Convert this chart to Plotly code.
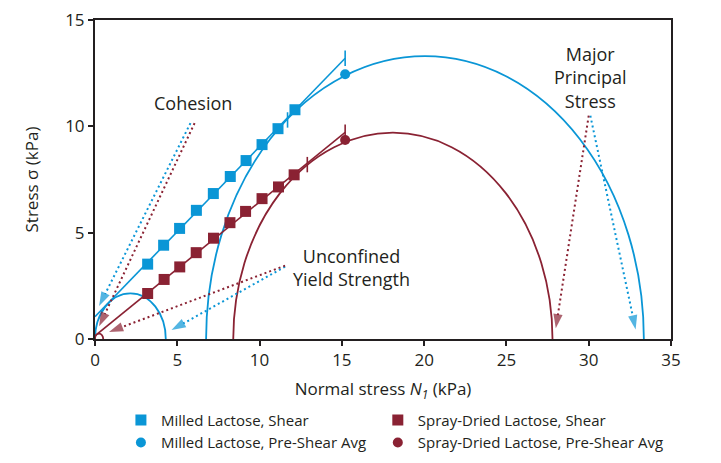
import plotly.graph_objects as go

# ---- data ----
milled_shear_x = [3.2, 4.17, 5.14, 6.16, 7.19, 8.22, 9.18, 10.15, 11.12, 12.15]
milled_shear_y = [3.52, 4.41, 5.2, 6.05, 6.84, 7.64, 8.39, 9.14, 9.89, 10.78]
spray_shear_x = [3.2, 4.2, 5.15, 6.15, 7.2, 8.2, 9.15, 10.15, 11.15, 12.1]
spray_shear_y = [2.14, 2.8, 3.39, 4.06, 4.74, 5.47, 6.0, 6.6, 7.15, 7.72]
milled_pre_x = [15.2]
milled_pre_y = [12.45]
spray_pre_x = [15.2]
spray_pre_y = [9.36]

# yield loci (fitted lines) and tick points (tangent point, end point)
milled_locus_x = [0.0, 15.2]
milled_locus_y = [1.05, 13.2]
milled_ticks_x = [11.7, 15.2]
milled_ticks_y = [10.3, 13.2]
spray_locus_x = [0.0, 15.2]
spray_locus_y = [0.15, 9.72]
spray_ticks_x = [12.9, 15.2]
spray_ticks_y = [8.2, 9.72]

# Mohr circles: (sigma3, sigma1) principal stresses
milled_circles = [(6.75, 33.35), (0.0, 4.3)]
spray_circles = [(8.4, 27.8), (0.0, 0.5)]

# annotation arrows: (x_start, y_start, x_end, y_end)
blue_arrows = [(5.8, 10.15, 0.25, 1.55), (11.55, 3.4, 4.65, 0.42), (30.1, 10.5, 32.85, 0.45)]
red_arrows = [(6.05, 10.15, 0.25, 0.6), (11.55, 3.45, 0.85, 0.33), (30.0, 10.5, 28.0, 0.5)]

labels = ["Cohesion", "Unconfined<br>Yield Strength", "Major<br>Principal<br>Stress"]
label_x = [5.97, 15.6, 30.1]
label_y = [11.1, 3.35, 12.3]

BLUE = "#0a96d6"
RED = "#8a2233"
INK = "#231f20"
FONT = "Open Sans"

fig = go.Figure()

# loci lines
fig.add_trace(go.Scatter(x=milled_locus_x, y=milled_locus_y, mode="lines",
                         line=dict(color=BLUE, width=1.6), showlegend=False, hoverinfo="skip"))
fig.add_trace(go.Scatter(x=spray_locus_x, y=spray_locus_y, mode="lines",
                         line=dict(color=RED, width=1.6), showlegend=False, hoverinfo="skip"))
fig.add_trace(go.Scatter(x=milled_ticks_x, y=milled_ticks_y, mode="markers",
                         marker=dict(symbol="line-ns", size=11, line=dict(color=BLUE, width=1.6)),
                         showlegend=False, hoverinfo="skip"))
fig.add_trace(go.Scatter(x=spray_ticks_x, y=spray_ticks_y, mode="markers",
                         marker=dict(symbol="line-ns", size=11, line=dict(color=RED, width=1.6)),
                         showlegend=False, hoverinfo="skip"))

# dotted arrows
for arrows, col in ((blue_arrows, BLUE), (red_arrows, RED)):
    for (x0, y0, x1, y1) in arrows:
        fig.add_trace(go.Scatter(
            x=[x0, x1], y=[y0, y1], mode="lines+markers",
            line=dict(color=col, width=2, dash="2px,3px"),
            marker=dict(symbol="arrow", size=[0, 15], color=col, angleref="previous",
                        line=dict(width=0)),
            showlegend=False, hoverinfo="skip"))

# data markers (legend: two columns)
fig.add_trace(go.Scatter(x=milled_shear_x, y=milled_shear_y, mode="markers",
                         name="Milled Lactose, Shear", legend="legend",
                         marker=dict(symbol="square", size=11, color=BLUE)))
fig.add_trace(go.Scatter(x=milled_pre_x, y=milled_pre_y, mode="markers",
                         name="Milled Lactose, Pre-Shear Avg", legend="legend",
                         marker=dict(symbol="circle", size=10, color=BLUE)))
fig.add_trace(go.Scatter(x=spray_shear_x, y=spray_shear_y, mode="markers",
                         name="Spray-Dried Lactose, Shear", legend="legend2",
                         marker=dict(symbol="square", size=11, color=RED)))
fig.add_trace(go.Scatter(x=spray_pre_x, y=spray_pre_y, mode="markers",
                         name="Spray-Dried Lactose, Pre-Shear Avg", legend="legend2",
                         marker=dict(symbol="circle", size=10, color=RED)))

shapes = []
for circles, col in ((milled_circles, BLUE), (spray_circles, RED)):
    for s3, s1 in circles:
        r = (s1 - s3) / 2
        shapes.append(dict(type="circle", xref="x", yref="y", x0=s3, x1=s1, y0=-r, y1=r,
                           line=dict(color=col, width=1.8), layer="below"))

annotations = [dict(x=x, y=y, text=t, showarrow=False, xref="x", yref="y",
                    font=dict(family=FONT, size=18, color=INK), align="center")
               for t, x, y in zip(labels, label_x, label_y)]

legend_style = dict(orientation="v", xanchor="left", yref="container", y=0.128,
                    yanchor="top", font=dict(family=FONT, size=15, color=INK),
                    bgcolor="rgba(0,0,0,0)", tracegroupgap=0)

fig.update_layout(
    width=721, height=463,
    margin=dict(l=95, r=50, t=20, b=124, autoexpand=False),
    paper_bgcolor="white", plot_bgcolor="white",
    font=dict(family=FONT, size=16, color=INK),
    shapes=shapes, annotations=annotations,
    legend=dict(x=0.045, **legend_style),
    legend2=dict(x=0.491, **legend_style),
    xaxis=dict(range=[0, 35], dtick=5, tick0=0, showgrid=False, zeroline=False,
               showline=True, linecolor=INK, linewidth=2, mirror=True, automargin=False,
               ticks="outside", ticklen=5, tickwidth=1.5, tickcolor=INK,
               tickfont=dict(family=FONT, size=17, color=INK),
               title=dict(text="Normal stress <i>N</i><sub><i>1</i></sub> (kPa)",
                          font=dict(family=FONT, size=17, color=INK), standoff=13)),
    yaxis=dict(range=[0, 15], dtick=5, tick0=0, showgrid=False, zeroline=False,
               showline=True, linecolor=INK, linewidth=2, mirror=True, automargin=False,
               ticks="outside", ticklen=5, tickwidth=1.5, tickcolor=INK,
               tickfont=dict(family=FONT, size=17, color=INK),
               title=dict(text="Stress σ (kPa)",
                          font=dict(family=FONT, size=17, color=INK), standoff=22)),
)

fig.write_html("out.html")
